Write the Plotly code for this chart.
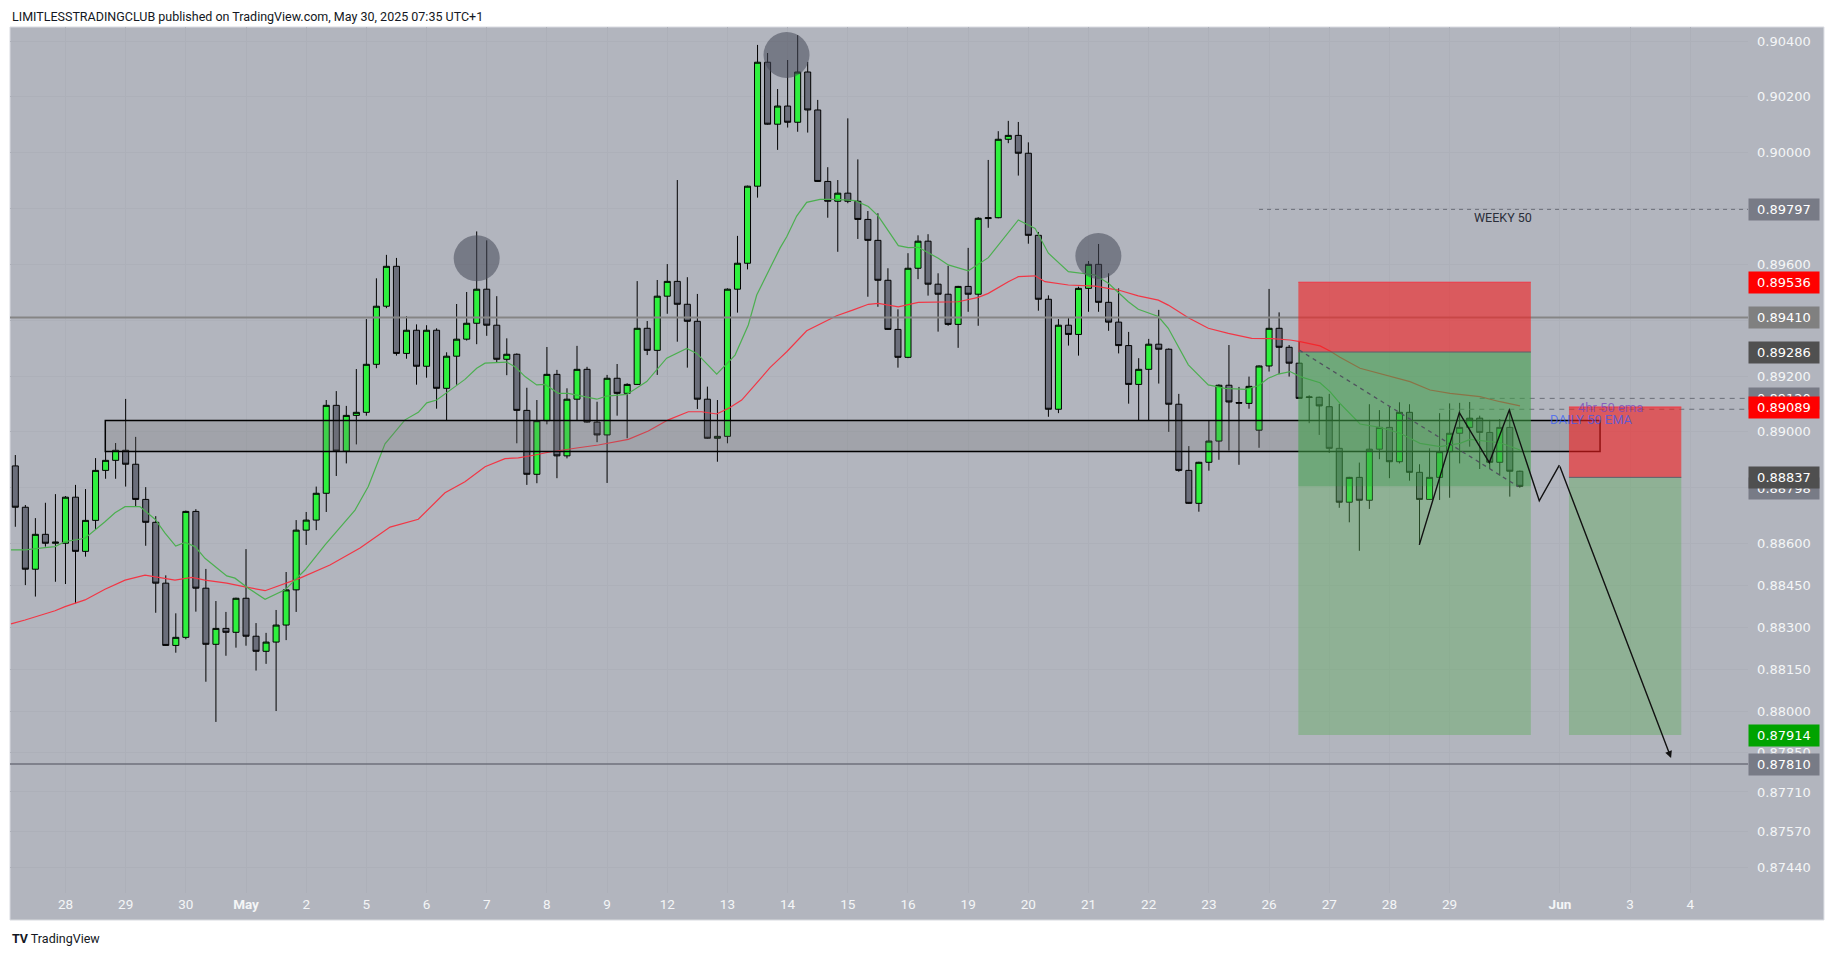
import plotly.graph_objects as go

# ---------------- data (4h candles) ----------------
opens = [0.88878,0.88730,0.88508,0.88633,0.88601,0.88601,0.88766,0.88572,0.88683,0.88862,
         0.88898,0.88934,0.88884,0.88758,0.88676,0.88458,0.88235,0.88264,0.88715,0.88440,
         0.88239,0.88296,0.88282,0.88404,0.88268,0.88214,0.88247,0.88308,0.88434,0.88648,
         0.88684,0.88780,0.89095,0.88931,0.89059,0.89070,0.89242,0.89450,0.89593,0.89281,
         0.89364,0.89235,0.89364,0.89156,0.89271,0.89332,0.89389,0.89511,0.89382,0.89260,
         0.89278,0.89077,0.88848,0.89040,0.89206,0.88914,0.89117,0.89224,0.89035,0.88989,
         0.89192,0.89138,0.89170,0.89371,0.89292,0.89486,0.89539,0.89457,0.89396,0.89117,
         0.88977,0.88984,0.89511,0.89604,0.89880,0.90324,0.90102,0.90167,0.90109,0.90289,
         0.90153,0.89897,0.89826,0.89855,0.89826,0.89761,0.89686,0.89543,0.89367,0.89267,
         0.89586,0.89683,0.89529,0.89493,0.89385,0.89521,0.89493,0.89764,0.89767,0.90048,
         0.90062,0.89998,0.89704,0.89475,0.89081,0.89382,0.89349,0.89514,0.89600,0.89464,
         0.89393,0.89309,0.89170,0.89224,0.89314,0.89296,0.89099,0.88862,0.88744,0.88891,
         0.88967,0.89167,0.89105,0.89102,0.89006,0.89236,0.89371,0.89303,0.89246,0.89123,
         0.89124,0.89090,0.88941,0.88748,0.88837,0.88755,0.88938,0.89016,0.88893,0.89070,
         0.88855,0.88758,0.88837,0.88929,0.88995,0.89016,0.89049,0.88998,0.88891,0.89016,
         0.88859]
highs = [0.88917,0.88738,0.88691,0.88746,0.88777,0.88770,0.88810,0.88795,0.88906,0.88931,
         0.88960,0.89118,0.88982,0.88802,0.88698,0.88486,0.88350,0.88718,0.88723,0.88509,
         0.88394,0.88355,0.88406,0.88580,0.88315,0.88280,0.88362,0.88498,0.88684,0.88713,
         0.88804,0.89114,0.89146,0.89093,0.89225,0.89404,0.89550,0.89634,0.89623,0.89414,
         0.89385,0.89382,0.89371,0.89285,0.89458,0.89501,0.89718,0.89686,0.89486,0.89335,
         0.89281,0.89158,0.89114,0.89304,0.89222,0.89156,0.89308,0.89233,0.89108,0.89204,
         0.89243,0.89174,0.89540,0.89397,0.89544,0.89601,0.89902,0.89554,0.89494,0.89162,
         0.89114,0.89514,0.89702,0.89882,0.90386,0.90357,0.90228,0.90332,0.90421,0.90325,
         0.90189,0.89948,0.89902,0.90123,0.89976,0.89791,0.89783,0.89586,0.89439,0.89640,
         0.89704,0.89708,0.89568,0.89595,0.89523,0.89659,0.89769,0.89974,0.90077,0.90114,
         0.90110,0.90037,0.89716,0.89489,0.89404,0.89410,0.89520,0.89612,0.89673,0.89568,
         0.89514,0.89358,0.89264,0.89333,0.89437,0.89299,0.89136,0.88949,0.88893,0.89041,
         0.89170,0.89311,0.89161,0.89198,0.89238,0.89512,0.89428,0.89311,0.89325,0.89131,
         0.89126,0.89136,0.89100,0.88839,0.88890,0.89099,0.89078,0.89090,0.89106,0.89099,
         0.88884,0.88941,0.89067,0.89102,0.89104,0.89107,0.89058,0.89043,0.89046,0.89081,
         0.88861]
lows = [0.88660,0.88451,0.88410,0.88589,0.88463,0.88455,0.88386,0.88553,0.88652,0.88832,
        0.88832,0.88804,0.88732,0.88592,0.88352,0.88233,0.88209,0.88257,0.88356,0.88105,
        0.87961,0.88198,0.88227,0.88234,0.88145,0.88169,0.88000,0.88254,0.88355,0.88595,
        0.88648,0.88713,0.88842,0.88887,0.88955,0.89058,0.89228,0.89443,0.89273,0.89262,
        0.89169,0.89194,0.89083,0.89041,0.89169,0.89327,0.89314,0.89344,0.89250,0.89203,
        0.88959,0.88810,0.88816,0.89027,0.88834,0.88905,0.89040,0.89033,0.88963,0.88817,
        0.89058,0.88977,0.89168,0.89275,0.89204,0.89423,0.89323,0.89230,0.89082,0.88975,
        0.88893,0.88959,0.89427,0.89582,0.89839,0.90100,0.90010,0.90090,0.90075,0.90072,
        0.89895,0.89767,0.89645,0.89819,0.89691,0.89484,0.89448,0.89365,0.89230,0.89264,
        0.89547,0.89488,0.89359,0.89380,0.89301,0.89430,0.89380,0.89731,0.89765,0.90034,
        0.89918,0.89674,0.89434,0.89054,0.89067,0.89309,0.89273,0.89430,0.89430,0.89362,
        0.89281,0.89101,0.89041,0.89041,0.89173,0.89000,0.88857,0.88742,0.88714,0.88861,
        0.88900,0.88933,0.88882,0.89083,0.88943,0.89216,0.89207,0.89198,0.89118,0.89031,
        0.88989,0.88925,0.88728,0.88676,0.88574,0.88724,0.88902,0.88834,0.88887,0.88825,
        0.88598,0.88756,0.88756,0.88764,0.88887,0.88947,0.88867,0.88867,0.88843,0.88768,
        0.88800]
closes = [0.88730,0.88508,0.88633,0.88601,0.88605,0.88766,0.88572,0.88683,0.88862,0.88898,
          0.88934,0.88884,0.88758,0.88676,0.88458,0.88235,0.88264,0.88715,0.88440,0.88239,
          0.88296,0.88282,0.88404,0.88268,0.88214,0.88247,0.88308,0.88434,0.88648,0.88684,
          0.88780,0.89095,0.88931,0.89059,0.89070,0.89242,0.89450,0.89593,0.89281,0.89364,
          0.89235,0.89364,0.89156,0.89271,0.89332,0.89389,0.89511,0.89382,0.89260,0.89278,
          0.89077,0.88848,0.89040,0.89206,0.88914,0.89117,0.89224,0.89035,0.88989,0.89192,
          0.89138,0.89170,0.89371,0.89292,0.89486,0.89539,0.89457,0.89396,0.89117,0.88977,
          0.88984,0.89511,0.89604,0.89880,0.90324,0.90102,0.90167,0.90109,0.90289,0.90153,
          0.89897,0.89826,0.89855,0.89826,0.89761,0.89686,0.89543,0.89367,0.89267,0.89586,
          0.89683,0.89529,0.89493,0.89385,0.89521,0.89493,0.89765,0.89767,0.90048,0.90062,
          0.89998,0.89704,0.89475,0.89081,0.89382,0.89349,0.89514,0.89600,0.89464,0.89393,
          0.89309,0.89170,0.89224,0.89314,0.89296,0.89099,0.88862,0.88744,0.88891,0.88967,
          0.89167,0.89107,0.89103,0.89163,0.89236,0.89371,0.89303,0.89246,0.89120,0.89125,
          0.89093,0.88941,0.88748,0.88837,0.88755,0.88938,0.89016,0.88893,0.89070,0.88855,
          0.88758,0.88837,0.88929,0.88995,0.89016,0.89049,0.88998,0.88891,0.89016,0.88859,
          0.88805]
bar_index = list(range(len(opens)))

# fast (green) and 50 (red) EMA, read at points
ema_fast_x = [-0.43,0.97,2.96,3.96,4.96,6.95,8.94,9.94,10.94,12.43,13.93,14.93,15.99,16.92,17.92,18.91,
              21.08,21.90,23.23,24.90,26.89,28.88,30.88,32.87,33.87,35.19,36.86,38.85,40.18,41.02,42.01,
              43.84,44.83,46.00,46.83,48.99,49.82,50.82,51.98,52.81,54.14,55.13,57.97,58.96,60.96,62.95,
              64.94,66.94,67.94,69.93,71.76,73.08,73.92,75.24,76.24,76.91,77.90,78.90,80.23,81.89,83.72,
              85.05,86.04,88.04,89.03,90.03,92.02,93.02,95.01,97.01,98.01,99.00,100.00,101.67,103.00,
              104.99,106.49,107.65,108.98,110.97,111.96,113.96,114.95,115.95,116.95,118.94,120.61,
              122.60,123.93,124.92,125.92,127.09,128.09,130.08,131.07,132.07,134.07,136.06,138.06,
              140.05,142.04,144.04,145.03,148.03,149.02,150.02]
ema_fast_y = [0.88577,0.88577,0.88585,0.88589,0.88607,0.88619,0.88678,0.88710,0.88732,0.88732,0.88687,
              0.88637,0.88591,0.88604,0.88589,0.88547,0.88484,0.88476,0.88440,0.88400,0.88434,0.88505,
              0.88595,0.88677,0.88720,0.88804,0.88957,0.89043,0.89070,0.89104,0.89114,0.89162,0.89188,
              0.89228,0.89246,0.89250,0.89233,0.89198,0.89168,0.89170,0.89138,0.89138,0.89117,0.89128,
              0.89134,0.89180,0.89264,0.89299,0.89281,0.89207,0.89275,0.89383,0.89490,0.89586,0.89658,
              0.89699,0.89773,0.89822,0.89833,0.89833,0.89828,0.89807,0.89773,0.89667,0.89660,0.89661,
              0.89622,0.89598,0.89577,0.89624,0.89669,0.89717,0.89759,0.89729,0.89640,0.89574,0.89568,
              0.89562,0.89532,0.89466,0.89439,0.89413,0.89371,0.89305,0.89240,0.89168,0.89156,0.89152,
              0.89165,0.89192,0.89207,0.89216,0.89198,0.89176,0.89144,0.89102,0.89028,0.89016,0.88995,
              0.88959,0.88947,0.88959,0.88973,0.88961,0.88949,0.88935]
ema_slow_x = [-0.43,0.97,3.96,4.96,6.95,8.94,10.94,12.93,15.92,17.59,18.91,21.08,22.90,24.90,28.38,
              31.37,34.37,37.36,40.18,42.84,44.83,46.83,48.82,50.15,51.81,53.14,56.13,58.13,61.12,
              63.11,65.10,67.10,68.43,69.93,71.09,72.42,73.75,75.24,76.24,76.91,78.90,81.89,83.55,
              85.05,86.04,88.04,90.03,92.02,94.01,96.01,97.01,99.00,100.00,101.67,102.66,104.99,
              107.65,109.97,111.96,113.96,114.95,116.95,118.94,120.94,123.27,125.27,127.09,128.09,
              130.08,131.07,132.07,134.07,137.06,139.05,141.05,143.04,146.03,148.03,150.02]
ema_slow_y = [0.88312,0.88326,0.88359,0.88374,0.88398,0.88436,0.88469,0.88487,0.88469,0.88479,0.88469,
              0.88458,0.88445,0.88431,0.88476,0.88523,0.88584,0.88659,0.88687,0.88782,0.88821,0.88875,
              0.88904,0.88907,0.88917,0.88927,0.88943,0.88953,0.88973,0.89003,0.89043,0.89072,0.89072,
              0.89064,0.89084,0.89114,0.89168,0.89230,0.89264,0.89287,0.89362,0.89416,0.89437,0.89457,
              0.89460,0.89448,0.89464,0.89466,0.89466,0.89482,0.89496,0.89538,0.89556,0.89559,0.89538,
              0.89526,0.89522,0.89508,0.89487,0.89472,0.89454,0.89409,0.89371,0.89353,0.89335,0.89334,
              0.89329,0.89323,0.89308,0.89290,0.89267,0.89228,0.89200,0.89180,0.89150,0.89138,0.89126,
              0.89108,0.89093]

# time axis
day_ticks = [5, 11, 17, 23, 29, 35, 41, 47, 53, 59, 65, 71, 77, 83, 89, 95, 101, 107, 113, 119,
             125, 131, 137, 143, 154, 161, 167]
day_labels = ['28', '29', '30', '<b>May</b>', '2', '5', '6', '7', '8', '9', '12', '13', '14', '15',
              '16', '19', '20', '21', '22', '23', '26', '27', '28', '29', '<b>Jun</b>', '3', '4']

# price axis
price_ticks = [0.904, 0.902, 0.900, 0.898, 0.896, 0.894, 0.892, 0.890, 0.888, 0.886, 0.8845,
               0.883, 0.8815, 0.880, 0.8785, 0.8771, 0.8757, 0.8744]
price_tick_text = ['%.5f' % v for v in price_ticks]

# drawings
levels_solid = [0.89410, 0.87810]
weekly_50 = 0.89797
weekly_start = 124.0
ema_lines = [0.89120, 0.89081]
ema_lines_start = [146.0, 141.97]
zone_x = [8.97, 158.0]
zone_y = [0.88930, 0.89041]
pos1_x = [127.92, 151.1]
pos1 = dict(stop=0.89536, entry=0.89286, target=0.87914)
pos2_x = [154.9, 166.1]
pos2 = dict(stop=0.89089, entry=0.88837, target=0.87914)
circle_x = [76.89, 46.0, 107.98]
circle_y = [0.90350, 0.89622, 0.89630]
zig_x = [139.98, 143.97, 146.96, 148.95, 151.94, 153.94, 165.08]
zig_y = [0.88595, 0.89069, 0.88890, 0.89078, 0.88753, 0.88881, 0.87832]
trend_x = [128.0, 149.85]
trend_y = [0.89293, 0.88804]

axis_label_prices = [0.89797, 0.89536, 0.89410, 0.89286, 0.89120, 0.89089, 0.88798, 0.88837, 0.87914, 0.87810]
axis_label_colors = ['#787b86', '#ff0000', '#808080', '#505050', '#787b86', '#ff0000', '#787b86', '#4f4f4f', '#00a300', '#787b86']

# ---------------- figure ----------------
BG = '#b2b5be'
X_RANGE = [-0.53, 172.75]
Y_RANGE = [0.873482, 0.904502]
FONT = 'Roboto, Inter, Arial, sans-serif'
PFONT = 'DejaVu Sans, Verdana, sans-serif'

fig = go.Figure()
fig.add_trace(go.Candlestick(
    x=bar_index, open=opens, high=highs, low=lows, close=closes,
    increasing=dict(fillcolor='#2ef03e', line=dict(color='#000000', width=1)),
    decreasing=dict(fillcolor='#6b6e7b', line=dict(color='#000000', width=1)),
    whiskerwidth=0, hoverinfo='skip', showlegend=False))
fig.add_trace(go.Scatter(x=ema_slow_x, y=ema_slow_y, mode='lines',
                         line=dict(color='#f23645', width=1.2), hoverinfo='skip', showlegend=False))
fig.add_trace(go.Scatter(x=ema_fast_x, y=ema_fast_y, mode='lines',
                         line=dict(color='#4caf50', width=1.2), hoverinfo='skip', showlegend=False))

shapes = []
shapes.append(dict(type='rect', xref='paper', yref='paper', x0=0, x1=1.0437, y0=-0.0312, y1=1,
                   fillcolor=BG, line=dict(width=1, color='#d9dbe1'), layer='below'))
for lv, col, w in zip(levels_solid, ['#858585', '#6e717b'], [2, 1.5]):
    shapes.append(dict(type='line', xref='paper', yref='y', x0=0, x1=1, y0=lv, y1=lv,
                       line=dict(color=col, width=w), layer='above'))
shapes.append(dict(type='line', xref='x', yref='y', x0=weekly_start, x1=X_RANGE[1], y0=weekly_50, y1=weekly_50,
                   line=dict(color='#6a6d78', width=1, dash='4px,4px'), layer='above'))
for lv, st in zip(ema_lines, ema_lines_start):
    shapes.append(dict(type='line', xref='x', yref='y', x0=st, x1=X_RANGE[1], y0=lv, y1=lv,
                       line=dict(color='#6a6d78', width=1, dash='5px,5px'), layer='above'))
shapes.append(dict(type='rect', xref='x', yref='y', x0=zone_x[0], x1=zone_x[1], y0=zone_y[0], y1=zone_y[1],
                   fillcolor='rgba(110,110,110,0.25)', line=dict(color='#000000', width=1.5), layer='above'))
shapes.append(dict(type='rect', xref='x', yref='y', x0=pos1_x[0], x1=pos1_x[1], y0=pos1['entry'], y1=pos1['stop'],
                   fillcolor='rgba(245,30,30,0.6)', line=dict(width=0), layer='above'))
shapes.append(dict(type='rect', xref='x', yref='y', x0=pos1_x[0], x1=pos1_x[1], y0=pos1['target'], y1=pos1['entry'],
                   fillcolor='rgba(90,173,87,0.4)', line=dict(width=0), layer='above'))
shapes.append(dict(type='rect', xref='x', yref='y', x0=pos1_x[0], x1=pos1_x[1], y0=closes[-1], y1=pos1['entry'],
                   fillcolor='rgba(40,150,60,0.3)', line=dict(width=0), layer='above'))
shapes.append(dict(type='line', xref='x', yref='y', x0=pos1_x[0], x1=pos1_x[1], y0=pos1['stop'], y1=pos1['stop'],
                   line=dict(color='#f23645', width=1), layer='above'))
shapes.append(dict(type='line', xref='x', yref='y', x0=pos1_x[0], x1=pos1_x[1], y0=pos1['entry'], y1=pos1['entry'],
                   line=dict(color='#5d606b', width=1), layer='above'))
shapes.append(dict(type='rect', xref='x', yref='y', x0=pos2_x[0], x1=pos2_x[1], y0=pos2['entry'], y1=pos2['stop'],
                   fillcolor='rgba(245,30,30,0.6)', line=dict(width=0), layer='above'))
shapes.append(dict(type='rect', xref='x', yref='y', x0=pos2_x[0], x1=pos2_x[1], y0=pos2['target'], y1=pos2['entry'],
                   fillcolor='rgba(90,173,87,0.4)', line=dict(width=0), layer='above'))
shapes.append(dict(type='line', xref='x', yref='y', x0=pos2_x[0], x1=pos2_x[1], y0=pos2['stop'], y1=pos2['stop'],
                   line=dict(color='#f23645', width=1), layer='above'))
shapes.append(dict(type='line', xref='x', yref='y', x0=pos2_x[0], x1=pos2_x[1], y0=pos2['entry'], y1=pos2['entry'],
                   line=dict(color='#5d606b', width=1), layer='above'))
for cx, cy in zip(circle_x, circle_y):
    shapes.append(dict(type='circle', xref='x', yref='y', xsizemode='pixel', ysizemode='pixel',
                       xanchor=cx, yanchor=cy, x0=-23, x1=23, y0=-23, y1=23,
                       fillcolor='rgba(70,72,88,0.55)', line=dict(width=0), layer='above'))
shapes.append(dict(type='line', xref='x', yref='y', x0=trend_x[0], x1=trend_x[1], y0=trend_y[0], y1=trend_y[1],
                   line=dict(color='#50535e', width=1.3, dash='4px,4px'), layer='above'))
path = 'M %f,%f ' % (zig_x[0], zig_y[0]) + ' '.join('L %f,%f' % (a, b) for a, b in zip(zig_x[1:-1], zig_y[1:-1]))
shapes.append(dict(type='path', xref='x', yref='y', path=path, line=dict(color='#111111', width=1.4), layer='above'))

annotations = []
annotations.append(dict(x=zig_x[-1], y=zig_y[-1], ax=zig_x[-2], ay=zig_y[-2], xref='x', yref='y',
                        axref='x', ayref='y', showarrow=True, arrowhead=2, arrowsize=1, arrowwidth=1.4,
                        arrowcolor='#111111', text=''))
annotations.append(dict(x=148.3, y=0.89769, xref='x', yref='y', text='WEEKY 50', showarrow=False,
                        font=dict(family=FONT, size=12.5, color='#2a2e39')))
annotations.append(dict(x=159.0, y=0.89086, xref='x', yref='y', text='4hr 50 ema', showarrow=False,
                        font=dict(family=FONT, size=13, color='rgba(120,70,190,0.75)')))
annotations.append(dict(x=157.1, y=0.89046, xref='x', yref='y', text='DAILY 50 EMA', showarrow=False,
                        font=dict(family=FONT, size=13, color='rgba(50,90,255,0.7)')))
for p, c in zip(axis_label_prices, axis_label_colors):
    annotations.append(dict(x=1, y=p, xref='paper', yref='y', xanchor='left', yanchor='middle',
                            text='%.5f' % p, showarrow=False, bgcolor=c, width=64, height=15, borderpad=3,
                            align='center', font=dict(family=PFONT, size=13, color='#ffffff')))
annotations.append(dict(x=0, y=1.0116, xref='paper', yref='paper', xanchor='left', yanchor='middle',
                        text='LIMITLESSTRADINGCLUB published on TradingView.com, May 30, 2025 07:35 UTC+1',
                        showarrow=False, font=dict(family=FONT, size=12.5, color='#131722')))
annotations.append(dict(x=0, y=-0.052, xref='paper', yref='paper', xanchor='left', yanchor='middle',
                        text='<b>TV</b> TradingView', showarrow=False,
                        font=dict(family=FONT, size=12.5, color='#131722')))

fig.update_layout(
    width=1835, height=956,
    margin=dict(l=10, r=87, t=27, b=63),
    paper_bgcolor='#ffffff', plot_bgcolor=BG,
    boxgap=0.4, boxgroupgap=0,
    shapes=shapes, annotations=annotations,
    showlegend=False, hovermode=False,
    font=dict(family=FONT),
)
fig.update_xaxes(range=X_RANGE, tickvals=day_ticks, ticktext=day_labels, showgrid=True,
                 gridcolor='#adb0b9', gridwidth=1, zeroline=False, showline=False, ticks='',
                 tickfont=dict(family=FONT, size=13.5, color='#f4f5f7'), ticklabelstandoff=1,
                 rangeslider=dict(visible=False), fixedrange=True)
fig.update_yaxes(range=Y_RANGE, side='right', tickvals=price_ticks, ticktext=price_tick_text,
                 showgrid=True, gridcolor='#adb0b9', gridwidth=1, zeroline=False, showline=False,
                 ticks='', tickfont=dict(family=PFONT, size=13, color='#f4f5f7'), ticklabelstandoff=8,
                 fixedrange=True)

fig.write_html('out.html')
